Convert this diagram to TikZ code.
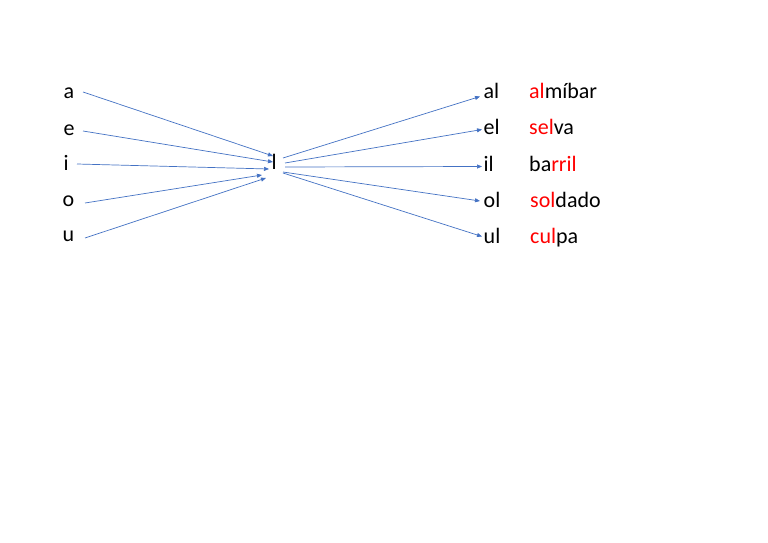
\documentclass[tikz,border=0pt]{standalone}
\usepackage{fontspec}
\setmainfont{Carlito}
\usetikzlibrary{arrows.meta}
\definecolor{arr}{HTML}{4472C4}
\definecolor{hl}{HTML}{FF0000}
\begin{document}
\begin{tikzpicture}[x=1pt,y=-1pt,
  lab/.style={anchor=base west,inner sep=0pt,font=\fontsize{22}{26}\selectfont},
  conn/.style={draw=arr,line width=0.7pt,-{Triangle[length=5pt,width=4pt]}}]
\useasboundingbox[fill=white] (0,0) rectangle (768,543);
% left vowels
\node[lab] (a) at (63.5,98.3) {a};
\node[lab] (e) at (63.5,135) {e};
\node[lab] (i) at (63.5,170) {i};
\node[lab] (o) at (62.5,206) {o};
\node[lab] (u) at (62.5,241.7) {u};
% centre
\node[lab] (l) at (271.5,169.5) {l};
% right syllables
\node[lab] (al) at (483.5,98.3) {al};
\node[lab] (el) at (483.5,134.3) {el};
\node[lab] (il) at (483.5,171.7) {il};
\node[lab] (ol) at (483.5,207.7) {ol};
\node[lab] (ul) at (483.5,243.3) {ul};
% words
\node[lab] (w1) at (529,98.3) {\textcolor{hl}{al}míbar};
\node[lab] (w2) at (529,134.3) {\textcolor{hl}{sel}va};
\node[lab] (w3) at (529,171.7) {ba\textcolor{hl}{rril}};
\node[lab] (w4) at (530,207.7) {\textcolor{hl}{sol}dado};
\node[lab] (w5) at (530,243.3) {\textcolor{hl}{cul}pa};
% connector end points
\coordinate (sa) at (83,92);
\coordinate (se) at (83,131);
\coordinate (si) at (77,164);
\coordinate (so) at (85,203);
\coordinate (su) at (85,238);
\coordinate (ta) at (273,156);
\coordinate (te) at (273,162);
\coordinate (ti) at (269,169);
\coordinate (to) at (262,175);
\coordinate (tu) at (266,178);
\coordinate (ra) at (283,158);
\coordinate (re) at (285,163);
\coordinate (ri) at (285,167);
\coordinate (ro) at (283,172);
\coordinate (ru) at (283,173);
\coordinate (ea) at (480,96.5);
\coordinate (ee) at (482,129.5);
\coordinate (ei) at (482,166.5);
\coordinate (eo) at (480,201);
\coordinate (eu) at (482,236.5);
\draw[conn] (sa) -- (ta);
\draw[conn] (se) -- (te);
\draw[conn] (si) -- (ti);
\draw[conn] (so) -- (to);
\draw[conn] (su) -- (tu);
\draw[conn] (ra) -- (ea);
\draw[conn] (re) -- (ee);
\draw[conn] (ri) -- (ei);
\draw[conn] (ro) -- (eo);
\draw[conn] (ru) -- (eu);
\end{tikzpicture}
\end{document}
